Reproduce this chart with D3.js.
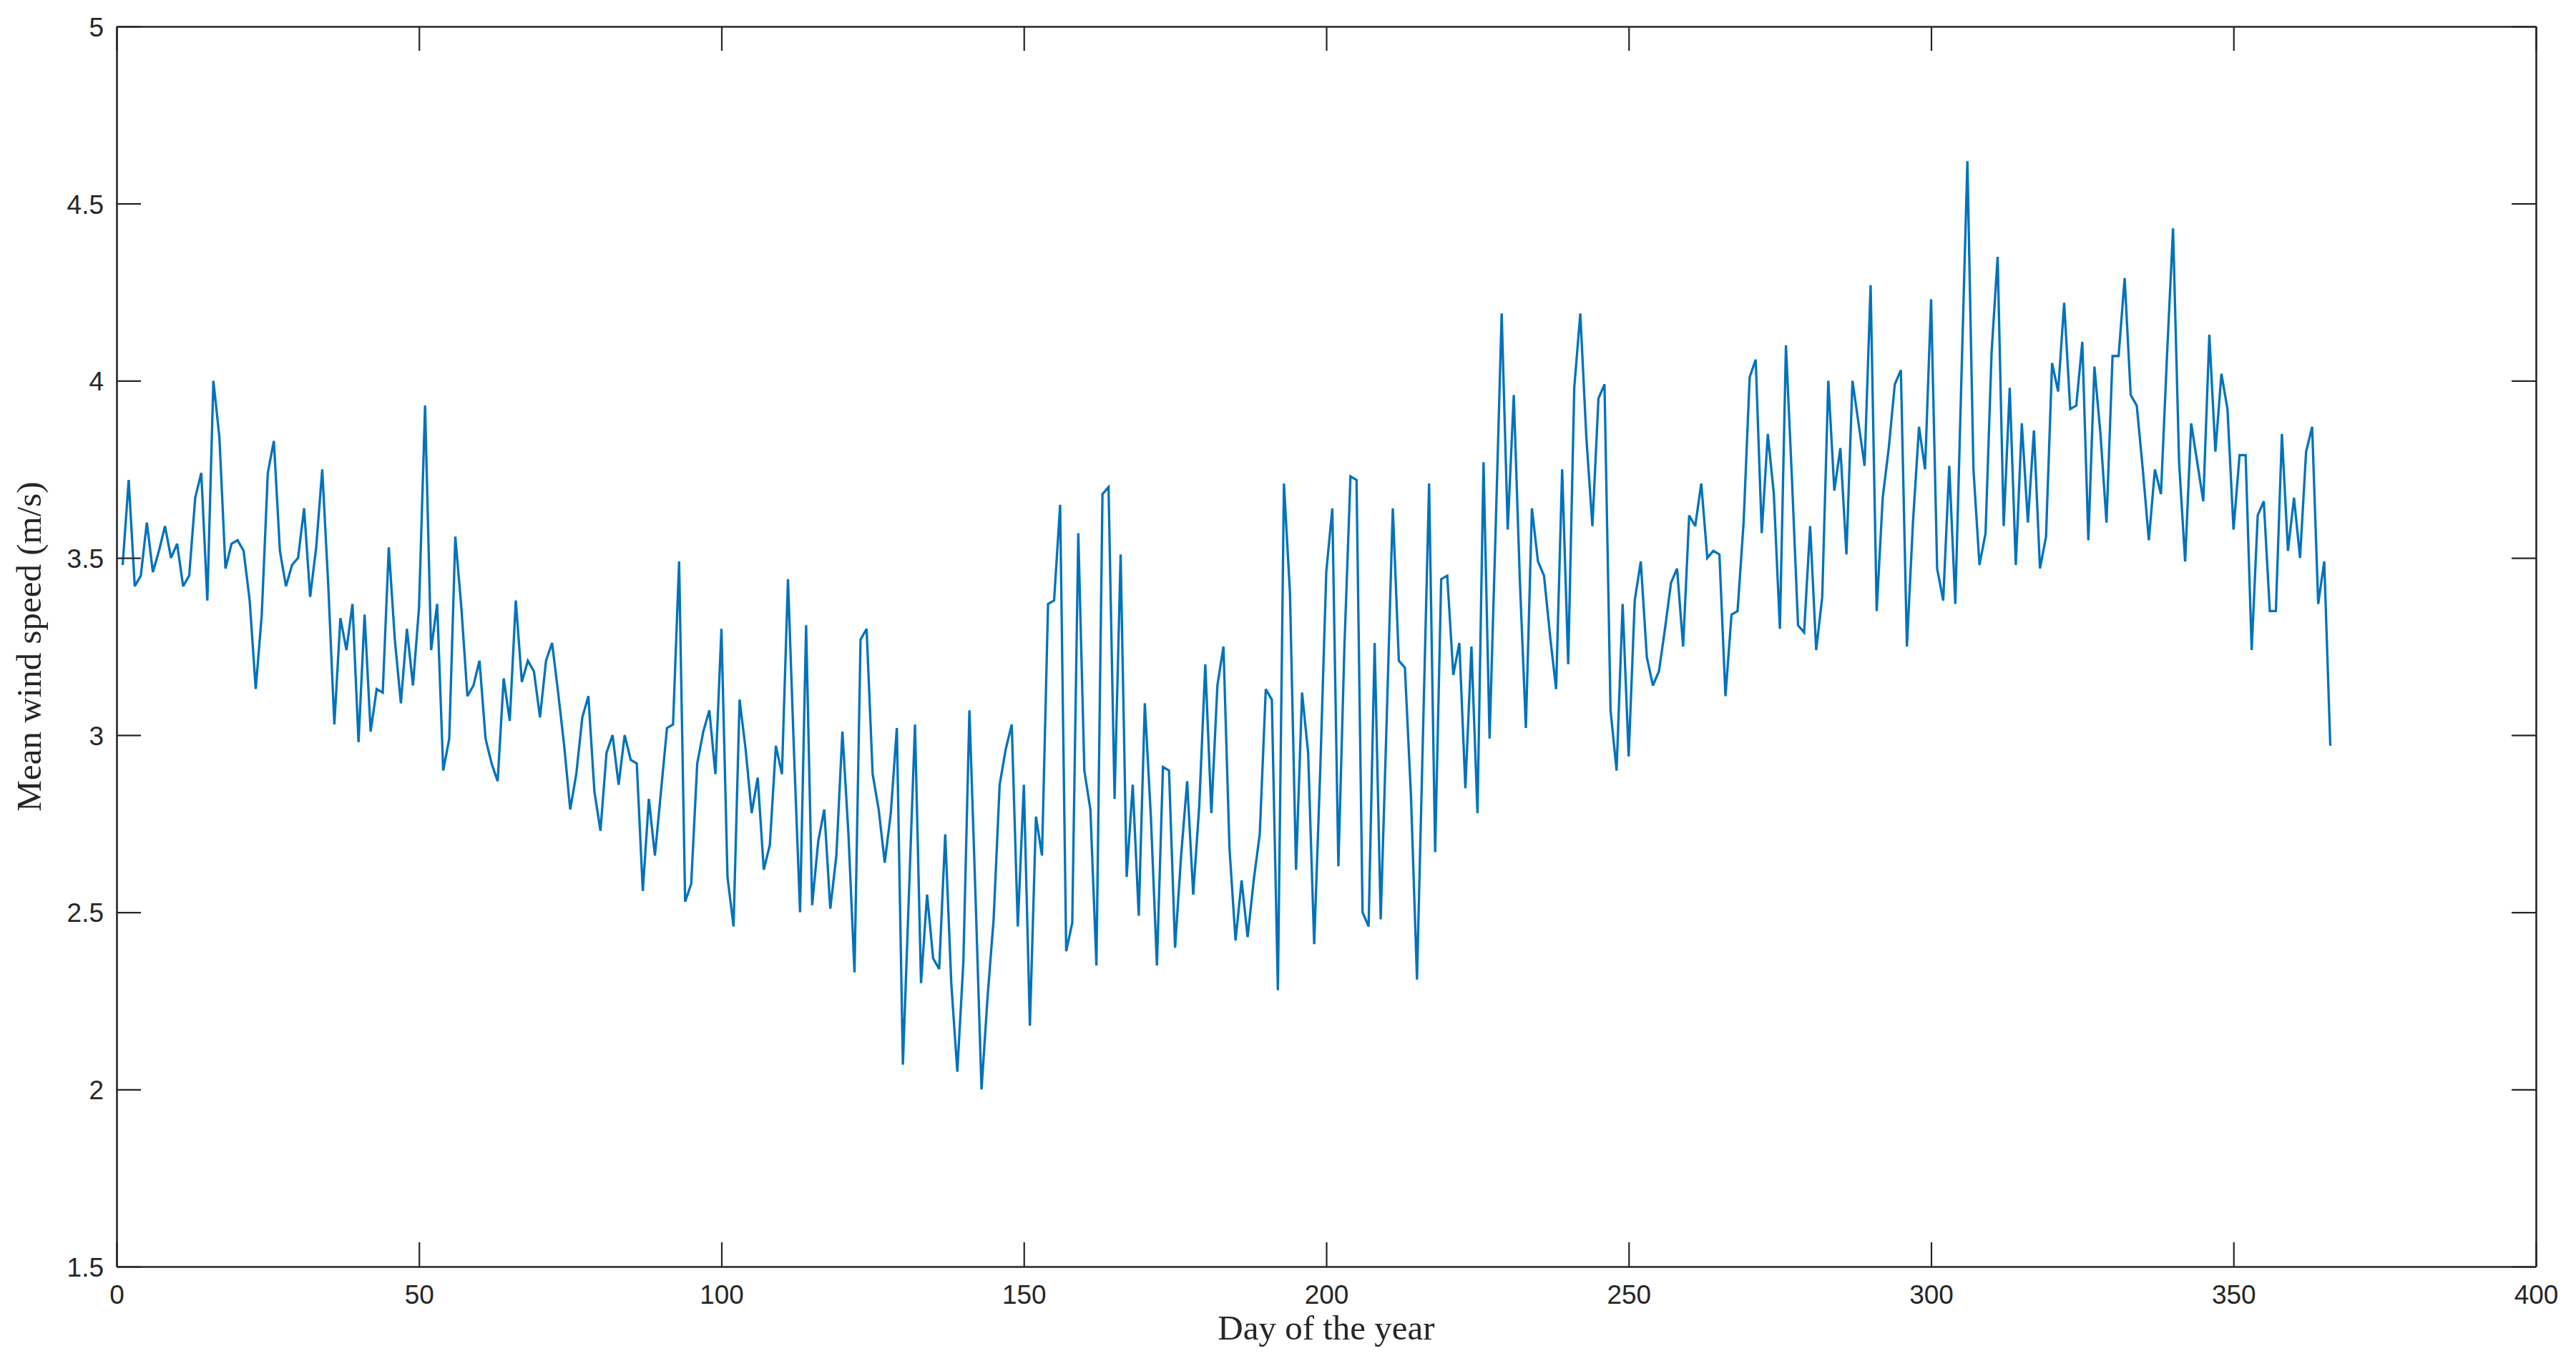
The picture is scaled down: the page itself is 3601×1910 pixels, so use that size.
<!DOCTYPE html>
<html>
<head>
<meta charset="utf-8">
<script src="https://cdn.jsdelivr.net/npm/d3@7/dist/d3.min.js"></script>
<style>
  html, body { margin: 0; padding: 0; background: #ffffff; }
  svg { display: block; }
</style>
</head>
<body>
<svg id="chart" width="3601" height="1910"></svg>
<script>
// ---- data ----
const firstDay = 1;
const windSpeed = [
  3.48, 3.72, 3.42, 3.45, 3.60, 3.46, 3.52, 3.59, 3.50, 3.54,
  3.42, 3.45, 3.67, 3.74, 3.38, 4.00, 3.84, 3.47, 3.54, 3.55,
  3.52, 3.38, 3.13, 3.34, 3.74, 3.83, 3.52, 3.42, 3.48, 3.50,
  3.64, 3.39, 3.53, 3.75, 3.42, 3.03, 3.33, 3.24, 3.37, 2.98,
  3.34, 3.01, 3.13, 3.12, 3.53, 3.27, 3.09, 3.30, 3.14, 3.36,
  3.93, 3.24, 3.37, 2.90, 2.99, 3.56, 3.36, 3.11, 3.14, 3.21,
  2.99, 2.92, 2.87, 3.16, 3.04, 3.38, 3.15, 3.21, 3.18, 3.05,
  3.21, 3.26, 3.12, 2.97, 2.79, 2.89, 3.05, 3.11, 2.84, 2.73,
  2.95, 3.00, 2.86, 3.00, 2.93, 2.92, 2.56, 2.82, 2.66, 2.84,
  3.02, 3.03, 3.49, 2.53, 2.58, 2.92, 3.01, 3.07, 2.89, 3.30,
  2.60, 2.46, 3.10, 2.96, 2.78, 2.88, 2.62, 2.69, 2.97, 2.89,
  3.44, 2.95, 2.50, 3.31, 2.52, 2.70, 2.79, 2.51, 2.66, 3.01,
  2.72, 2.33, 3.27, 3.30, 2.89, 2.79, 2.64, 2.78, 3.02, 2.07,
  2.55, 3.03, 2.30, 2.55, 2.37, 2.34, 2.72, 2.30, 2.05, 2.36,
  3.07, 2.55, 2.00, 2.26, 2.48, 2.86, 2.96, 3.03, 2.46, 2.86,
  2.18, 2.77, 2.66, 3.37, 3.38, 3.65, 2.39, 2.47, 3.57, 2.90,
  2.79, 2.35, 3.68, 3.70, 2.82, 3.51, 2.60, 2.86, 2.49, 3.09,
  2.77, 2.35, 2.91, 2.90, 2.40, 2.66, 2.87, 2.55, 2.80, 3.20,
  2.78, 3.14, 3.25, 2.68, 2.42, 2.59, 2.43, 2.59, 2.72, 3.13,
  3.10, 2.28, 3.71, 3.40, 2.62, 3.12, 2.95, 2.41, 2.90, 3.46,
  3.64, 2.63, 3.25, 3.73, 3.72, 2.50, 2.46, 3.26, 2.48, 3.05,
  3.64, 3.21, 3.19, 2.83, 2.31, 3.01, 3.71, 2.67, 3.44, 3.45,
  3.17, 3.26, 2.85, 3.25, 2.78, 3.77, 2.99, 3.58, 4.19, 3.58,
  3.96, 3.44, 3.02, 3.64, 3.49, 3.45, 3.28, 3.13, 3.75, 3.20,
  3.98, 4.19, 3.84, 3.59, 3.95, 3.99, 3.07, 2.90, 3.37, 2.94,
  3.38, 3.49, 3.22, 3.14, 3.18, 3.30, 3.43, 3.47, 3.25, 3.62,
  3.59, 3.71, 3.50, 3.52, 3.51, 3.11, 3.34, 3.35, 3.60, 4.01,
  4.06, 3.57, 3.85, 3.68, 3.30, 4.10, 3.72, 3.31, 3.29, 3.59,
  3.24, 3.39, 4.00, 3.69, 3.81, 3.51, 4.00, 3.88, 3.76, 4.27,
  3.35, 3.67, 3.81, 3.99, 4.03, 3.25, 3.60, 3.87, 3.75, 4.23,
  3.47, 3.38, 3.76, 3.37, 4.00, 4.62, 3.75, 3.48, 3.57, 4.08,
  4.35, 3.59, 3.98, 3.48, 3.88, 3.60, 3.86, 3.47, 3.56, 4.05,
  3.97, 4.22, 3.92, 3.93, 4.11, 3.55, 4.04, 3.85, 3.60, 4.07,
  4.07, 4.29, 3.96, 3.93, 3.75, 3.55, 3.75, 3.68, 4.07, 4.43,
  3.77, 3.49, 3.88, 3.77, 3.66, 4.13, 3.80, 4.02, 3.92, 3.58,
  3.79, 3.79, 3.24, 3.62, 3.66, 3.35, 3.35, 3.85, 3.52, 3.67,
  3.50, 3.80, 3.87, 3.37, 3.49, 2.97
];
const days = windSpeed.map((_, i) => firstDay + i);
const xTicks = [0, 50, 100, 150, 200, 250, 300, 350, 400];
const yTicks = [1.5, 2, 2.5, 3, 3.5, 4, 4.5, 5];
const xDomain = [0, 400];
const yDomain = [1.5, 5];
const xTitle = "Day of the year";
const yTitle = "Mean wind speed (m/s)";

(function () {
  // ---- layout ----
  const L = 163, R = 3545, T = 37, B = 1771;
  const axisColor = "#262626";
  const lineColor = "#0072BD";
  const tickLen = 34;

  const svg = d3.select("#chart");
  svg.append("rect").attr("width", 3601).attr("height", 1910).attr("fill", "#ffffff");

  const x = d3.scaleLinear().domain(xDomain).range([L, R]);
  const y = d3.scaleLinear().domain(yDomain).range([B, T]);

  // data line
  const line = d3.line().x((d, i) => x(days[i])).y(d => y(d));
  svg.append("path")
    .datum(windSpeed)
    .attr("d", line)
    .attr("fill", "none")
    .attr("stroke", lineColor)
    .attr("stroke-width", 3.3)
    .attr("stroke-linejoin", "miter")
    .attr("stroke-miterlimit", 3);

  // axes (inward ticks, box)
  const fmt = d => String(d);
  const gBottom = svg.append("g").attr("transform", `translate(0,${B})`)
    .call(d3.axisBottom(x).tickValues(xTicks).tickSizeInner(-tickLen).tickSizeOuter(0).tickPadding(26).tickFormat(fmt));
  const gTop = svg.append("g").attr("transform", `translate(0,${T})`)
    .call(d3.axisTop(x).tickValues(xTicks).tickSizeInner(-tickLen).tickSizeOuter(0).tickFormat(""));
  const gLeft = svg.append("g").attr("transform", `translate(${L},0)`)
    .call(d3.axisLeft(y).tickValues(yTicks).tickSizeInner(-tickLen).tickSizeOuter(0).tickPadding(18).tickFormat(fmt));
  const gRight = svg.append("g").attr("transform", `translate(${R},0)`)
    .call(d3.axisRight(y).tickValues(yTicks).tickSizeInner(-tickLen).tickSizeOuter(0).tickFormat(""));

  [gBottom, gTop, gLeft, gRight].forEach(g => {
    g.select(".domain").attr("stroke", axisColor).attr("stroke-width", 2.6);
    g.selectAll(".tick line").attr("stroke", axisColor).attr("stroke-width", 2.2);
    g.selectAll(".tick text")
      .attr("fill", axisColor)
      .style("font-family", "'Liberation Sans', Arial, Helvetica, sans-serif")
      .style("font-size", "37px");
  });
  gBottom.selectAll(".tick text").attr("dy", "0.71em");
  gLeft.selectAll(".tick text").attr("dy", "0.36em");

  // axis titles
  svg.append("text")
    .attr("x", (L + R) / 2).attr("y", 1873)
    .attr("text-anchor", "middle")
    .attr("fill", axisColor)
    .style("font-family", "'Liberation Serif', 'Times New Roman', serif")
    .style("font-size", "49px")
    .text(xTitle);

  svg.append("text")
    .attr("transform", `translate(57,${(T + B) / 2}) rotate(-90)`)
    .attr("text-anchor", "middle")
    .attr("fill", axisColor)
    .style("font-family", "'Liberation Serif', 'Times New Roman', serif")
    .style("font-size", "49px")
    .text(yTitle);
})();
</script>
</body>
</html>
